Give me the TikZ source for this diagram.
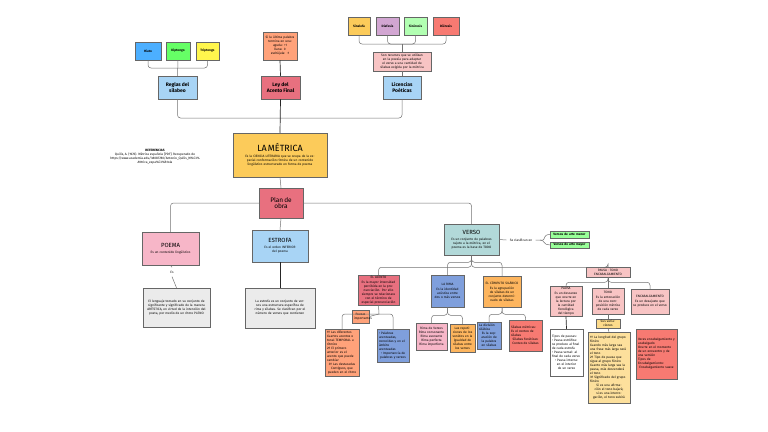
\documentclass[tikz,border=0pt]{standalone}
\usepackage{fontspec}
\setmainfont{Fira Sans}
\begin{document}
\begin{tikzpicture}[x=1pt,y=-1pt,
 ln/.style={draw=black!55,line width=0.5pt,rounded corners=3pt},
 dk/.style={draw=black!85,line width=0.7pt},
 bx/.style={draw=black!60,line width=0.5pt,inner sep=1pt,align=center,font=\fontsize{3.2}{4}\selectfont}]
\useasboundingbox (0,0) rectangle (768,431);
\fill[white] (0,0) rectangle (768,431);
\definecolor{rosa}{HTML}{E8707F}
\definecolor{celeste}{HTML}{A8D4F5}
\definecolor{amar}{HTML}{FCCB5A}
\definecolor{azul}{HTML}{7F9FDC}
\definecolor{naran}{HTML}{FDB55E}
\definecolor{salmon}{HTML}{FFA27A}
\definecolor{rosac}{HTML}{F7B6C8}
\definecolor{rosap}{HTML}{F8C4C4}
\definecolor{rojo}{HTML}{F77A72}
\newcommand{\bx}[7]{\node[bx,fill=#6,minimum width=#4-#2,minimum height=#5-#3,text width=#4-#2-4,anchor=center] (#1) at ({(#2+#4)/2},{(#3+#5)/2}) {#7};}
% top row
\bx{hiato}{135}{42}{161}{60}{blue!45!cyan!70}{\textbf{Hiato}}
\bx{dipt}{166}{42}{190}{60}{green!60}{\textbf{Diptongo}}
\bx{tript}{196}{42}{219}{60}{yellow!70}{\textbf{Triptongo}}
\bx{reglas}{158}{76}{197}{99}{celeste}{\fontsize{5}{6}\selectfont\bfseries Reglas del\\ silabeo}
\bx{acento}{261}{76}{300}{99}{rosa}{\fontsize{5}{6}\selectfont\bfseries Ley del\\ Acento Final}
\bx{acdesc}{263}{32}{297}{60}{salmon}{Si la última palabra termina en una:\\ aguda: +1\\ llana: 0\\ esdrújula: -1}
\bx{licen}{383}{76}{421}{99}{celeste}{\fontsize{5}{6}\selectfont\bfseries Licencias\\ Poéticas}
\bx{licdesc}{373}{52}{431}{71}{rosap}{Son recursos que se utilizan en la poesía para adaptar el verso a una cantidad de sílabas exigida por la métrica}
\bx{sinal}{348}{17}{370}{35}{amar}{\textbf{Sinalefa}}
\bx{diaf}{376}{17}{399}{35}{violet!35}{\textbf{Diafesis}}
\bx{siner}{404}{17}{427}{35}{green!30}{\textbf{Sinéresis}}
\bx{dier}{433}{17}{459}{35}{rojo}{\textbf{Diéresis}}
% center
\bx{metrica}{233}{133}{327}{177}{amar}{{\fontsize{9}{10}\selectfont LA MÉTRICA}\\[2pt] Es la CIENCIA LITERARIA que se ocupa de la especial conformación rítmica de un contenido lingüístico estructurado en forma de poema}
\bx{plan}{259}{188}{303}{218}{rosa}{\fontsize{6.5}{8.5}\selectfont Plan de\\ obra}
\node[align=center,font=\fontsize{3.2}{4}\selectfont] (ref) at (155,157) {\textbf{REFERENCIAS}\\ Quilis, A. (1976). Métrica española [PDF]. Recuperado de\\ https://www.academia.edu/38087780/Antonio\_Quilis\_M\%C3\%\\ A9trica\_espa\%C3\%B1ola};
\bx{poema}{142}{232}{199}{265}{rosac}{{\fontsize{6}{7.5}\selectfont POEMA}\\[2pt] Es un contenido lingüístico}
\bx{estrofa}{252}{230}{308}{262}{celeste}{{\fontsize{6}{7.5}\selectfont ESTROFA}\\[2pt] Es el orden INFERIOR\\ del poema}
\bx{poemad}{143}{288}{210}{327}{black!8}{El lenguaje tomado en su conjunto de significante y significado de la manera ARTÍSTICA, en virtud de la intención del poeta, por medio de un ritmo PLENO}
\bx{estrofad}{245}{288}{315}{328}{black!8}{La estrofa es un conjunto de versos una estructura específica de rima y sílabas. Se clasifican por el número de versos que contienen}
\node[font=\fontsize{3.2}{4}\selectfont] (es) at (172,272) {Es};
\bx{verso}{444}{224}{499}{255}{teal!30}{{\fontsize{6}{7.5}\selectfont VERSO}\\[2pt] Es un conjunto de palabras sujeto a la métrica, en el poema es la base de TODO}
\node[font=\fontsize{3.2}{4}\selectfont] (clas) at (521,240) {Se clasifican en};
\bx{menor}{550}{231}{589}{238}{green!40}{\textbf{Versos de arte menor}}
\bx{mayor}{550}{242}{589}{248}{green!40}{\textbf{Versos de arte mayor}}
% verso children
\bx{elac}{358}{275}{399}{305}{rosa}{EL ACENTO\\[1pt] Es la mayor intensidad percibida en la pronunciación. Por ello siempre se relacionara con el término de especial pronunciación}
\bx{rima}{431}{275}{464}{307}{azul}{LA RIMA\\[1pt] Es la identidad acústica entre dos o más versos}
\bx{comp}{483}{276}{521}{307}{naran}{EL CÓMPUTO SILÁBICO\\[1pt] Es la agrupación de sílabas de un conjunto determinado de sílabas}
\bx{ptono}{586}{267}{630}{277}{rosap}{PAUSA · TONO\\ ENCABALGAMIENTO}
\bx{pausa}{352}{310}{369}{323}{salmon}{Pausas\\ importantes}
\bx{acor}{325}{329}{359}{376}{salmon}{\raggedright 1º Las diferentes Cuartos acentos o tonal TEMPORAL u rítmico\\ 2º El primero anterior es el acento que puede cambiar\\ 3º Las destacadas Contiguos, que pueden en el ritmo}
\bx{acaz}{377}{329}{409}{362}{azul}{\raggedright • Palabras acentuadas, conocidas y en el ámbito acentuadas\\ • Importancia de palabras y versos}
\bx{rimaa}{416}{323}{447}{350}{rosac}{Rima de Versos\\ Rima consonante\\ Rima asonante\\ Rima perfecta\\ Rima imperfecta}
\bx{rimab}{450}{324}{475}{352}{naran}{Las repeticiones de los sonidos en la igualdad de sílabas entre los versos}
\bx{compa}{477}{322}{501}{349}{azul}{\raggedright La división silábica\\ Es la separación de la palabra en sílabas}
\bx{compb}{509}{320}{542}{351}{rojo}{\raggedright Sílabas métricas: Es el conteo de sílabas\\ Sílabas fonéticas: Conteo de sílabas}
\bx{pau}{550}{289}{582}{314}{rosap}{PAUSA\\[1pt] \raggedright Es un descanso que ocurre en la lectura por la cantidad fonológica del tiempo}
\bx{tono}{592}{288}{624}{314}{rosap}{TONO\\[1pt] \raggedright Es la entonación de una composición métrica de cada verso}
\bx{enc}{631}{289}{669}{314}{rosap}{ENCABALGAMIENTO\\[1pt] Es un desajuste que se produce en el verso}
\bx{paud}{550}{329}{583}{376}{white}{\raggedright Tipos de pausas:\\ • Pausa estrófica: se produce al final de cada estrofa\\ • Pausa versal: al final de cada verso\\ • Pausa interna: en el interior de un verso}
\bx{sus}{596}{319}{620}{328}{amar!70}{Sus variaciones}
\bx{tonod}{588}{332}{630}{403}{amar!60}{\raggedright 1º La longitud del grupo fónico\\ Cuando más larga sea una frase más larga será el tono\\ 2º Tipo de pausa que sigue al grupo fónico\\ Cuanto más larga sea la pausa, más descenderá el tono\\ 3º Significado del grupo fónico\\ Si es una afirmación el tono bajará; si es una interrogación, el tono subirá}
\bx{encd}{636}{329}{677}{379}{rojo}{\raggedright Veces encabalgamiento y acabalgado\\ Ocurre en el momento de un encuentro y de una versión\\ Tipos de Encabalgamiento:\\ Encabalgamiento suave}
% connectors
\coordinate (b1) at (178,68); \coordinate (b2) at (402,44); \coordinate (b3) at (281,118);
\draw[ln] (hiato.south) |- (b1) -| (tript.south);
\draw[ln] (dipt.south) -- (reglas.north);
\draw[ln] (sinal.south) |- (b2) -| (dier.south);
\draw[ln] (diaf.south) |- (b2) -| (siner.south);
\draw[ln] (b2) -- (licdesc.north);
\draw[ln] (licdesc.south) -- (licen.north);
\draw[dk] (acdesc.south) -- (acento.north);
\draw[ln] (reglas.south) |- (b3) -| (licen.south);
\draw[dk] (acento.south) -- (metrica.north);
\draw[ln] (metrica.south) -- (plan.north);
\draw[ln] (plan.south) -- (estrofa.north);
\draw[ln] (plan.west) -| (poema.north);
\draw[ln] (plan.east) -| (verso.north);
\draw[ln] (poema.south) -- (es.north);
\draw[ln] (es.south) -- (poemad.north);
\draw[dk] (estrofa.south) -- (estrofad.north);
\draw[ln] (verso.east) -- (clas.west);
\draw[ln] (clas.east) -- (540,240) .. controls (545,240) and (543,234.5) .. (menor.west);
\draw[ln] (540,240) .. controls (545,240) and (543,245) .. (mayor.west);
\draw[ln] (verso.south) -- ++(0,7) -| (comp.north);
\draw[ln] (verso.south) -- ++(0,7) -| (rima.north);
\draw[ln] (verso.south) -- ++(0,12) -| (elac.north);
\draw[ln] (verso.south) -- ++(0,12) -| (ptono.north);
\coordinate (b6) at (379,314); \draw[ln] (elac.south) -- (b6);
\draw[ln] (b6) -| (acor.north); \draw[ln] (b6) -| (acaz.north); \draw[ln] (b6) -- (pausa.east);
\draw[ln] (rima.south) -- ++(0,8) -| (rimaa.north); \draw[ln] (rima.south) -- ++(0,8) -| (rimab.north);
\draw[ln] (comp.south) -- ++(0,7) -| (compa.north); \draw[ln] (comp.south) -- ++(0,7) -| (compb.north);
\draw[ln] (ptono.south) -- ++(0,5) -| (pau.north); \draw[ln] (ptono.south) -- ++(0,5) -| (enc.north);
\draw[ln] (ptono.south) -- (tono.north);
\draw[dk] (pau.south) -- (paud.north);
\draw[ln] (tono.south) -- (sus.north); \draw[ln] (sus.south) -- (tonod.north);
\end{tikzpicture}
\end{document}
